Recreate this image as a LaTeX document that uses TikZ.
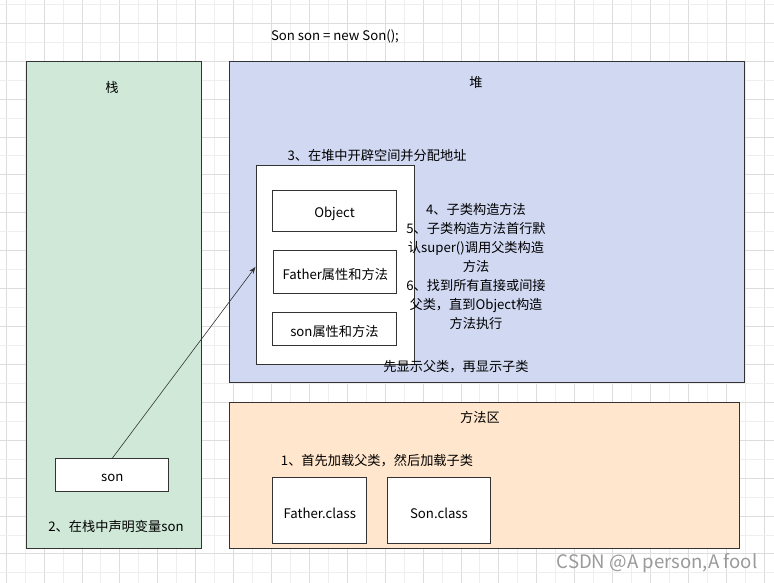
\documentclass[tikz,border=0pt]{standalone}
\usepackage{fontspec}
\setmainfont{Noto Sans CJK SC}
\usetikzlibrary{arrows.meta}
\definecolor{gridminor}{HTML}{EEEEEE}
\definecolor{gridmajor}{HTML}{DDDDDD}
\definecolor{stackfill}{HTML}{D0E8D7}
\definecolor{heapfill}{HTML}{D0D8F2}
\definecolor{methfill}{HTML}{FFE6CC}
\definecolor{edge}{HTML}{333333}
\definecolor{wm}{HTML}{9A9A9A}
\tikzset{
  region/.style={draw=edge, line width=0.9pt},
  whitebox/.style={draw=edge, fill=white, line width=0.9pt, anchor=north west, inner sep=0pt},
  lbl/.style={font=\fontsize{13.2}{19}\selectfont, text=black, inner sep=0pt, align=center},
  boxtext/.style={lbl, yshift=-2.5pt},
  conn/.style={draw=edge, line width=0.6pt, -{Stealth[length=7pt,width=5pt]}}
}
\begin{document}
\begin{tikzpicture}[x=1pt,y=-1pt]
\useasboundingbox (0,0) rectangle (774,583);
\fill[white] (0,0) rectangle (774,583);
% grid
\foreach \k in {0,...,40}{
  \pgfmathsetmacro{\xx}{6.1+18.95*\k}
  \pgfmathtruncatemacro{\ev}{mod(\k,2)}
  \ifnum\ev=0 \draw[gridmajor,line width=0.8pt] (\xx,0) -- (\xx,583);
  \else \draw[gridminor,line width=0.8pt] (\xx,0) -- (\xx,583); \fi
}
\foreach \k in {0,...,30}{
  \pgfmathsetmacro{\yy}{4.3+18.95*\k}
  \pgfmathtruncatemacro{\ev}{mod(\k,2)}
  \ifnum\ev=1 \draw[gridmajor,line width=0.8pt] (0,\yy) -- (774,\yy);
  \else \draw[gridminor,line width=0.8pt] (0,\yy) -- (774,\yy); \fi
}
% regions
\path[region, fill=stackfill] (26.7,61) rectangle (201.3,548);
\path[region, fill=heapfill] (229.3,61) rectangle (744.5,382);
\path[region, fill=methfill] (229.3,402) rectangle (739.5,548);
% white boxes
\node[whitebox, minimum width=158.7pt, minimum height=198.7pt] (inner) at (255.5,165.3) {};
\node[whitebox, minimum width=123.5pt, minimum height=41.6pt] (obj) at (272.3,189.7) {};
\node[whitebox, minimum width=123pt, minimum height=43pt] (fat) at (273.3,250.3) {};
\node[whitebox, minimum width=123.3pt, minimum height=33.3pt] (sonattr) at (272.3,312) {};
\node[whitebox, minimum width=113pt, minimum height=33pt] (son) at (55.3,458.3) {};
\node[whitebox, minimum width=94pt, minimum height=66pt] (fcls) at (272.3,477.3) {};
\node[whitebox, minimum width=102.4pt, minimum height=66pt] (scls) at (387.3,477.3) {};
\node[boxtext] (objt) at (obj.center) {Object};
\node[boxtext] (fatt) at (fat.center) {Father属性和方法};
\node[boxtext] (sonattrt) at (sonattr.center) {son属性和方法};
\node[boxtext] (sont) at (son.center) {son};
\node[boxtext] (fclst) at (fcls.center) {Father.class};
\node[boxtext] (sclst) at (scls.center) {Son.class};
% labels
\node[lbl] (code) at (335,36) {Son son = new Son();};
\node[lbl] (zhan) at (112,87.5) {栈};
\node[lbl] (dui) at (476,82.5) {堆};
\node[lbl] (ffq) at (480,417.5) {方法区};
\node[lbl] (t3) at (377,155.5) {3、在堆中开辟空间并分配地址};
\node[lbl] (t456) at (476,266) {4、子类构造方法\\5、子类构造方法首行默\\认super()调用父类构造\\方法\\6、找到所有直接或间接\\父类，直到Object构造\\方法执行};
\node[lbl] (tshow) at (456,366.5) {先显示父类，再显示子类};
\node[lbl] (t1) at (377,461) {1、首先加载父类，然后加载子类};
\node[lbl] (t2) at (116,526.5) {2、在栈中声明变量son};
% connector
\draw[conn] (son.north) -- ([yshift=-1.8pt]inner.west);
% watermark
\node[font=\fontsize{18.6}{20}\selectfont, text=wm, inner sep=0pt] (wmk) at (657,563) {CSDN @A person,A fool};
\end{tikzpicture}
\end{document}
